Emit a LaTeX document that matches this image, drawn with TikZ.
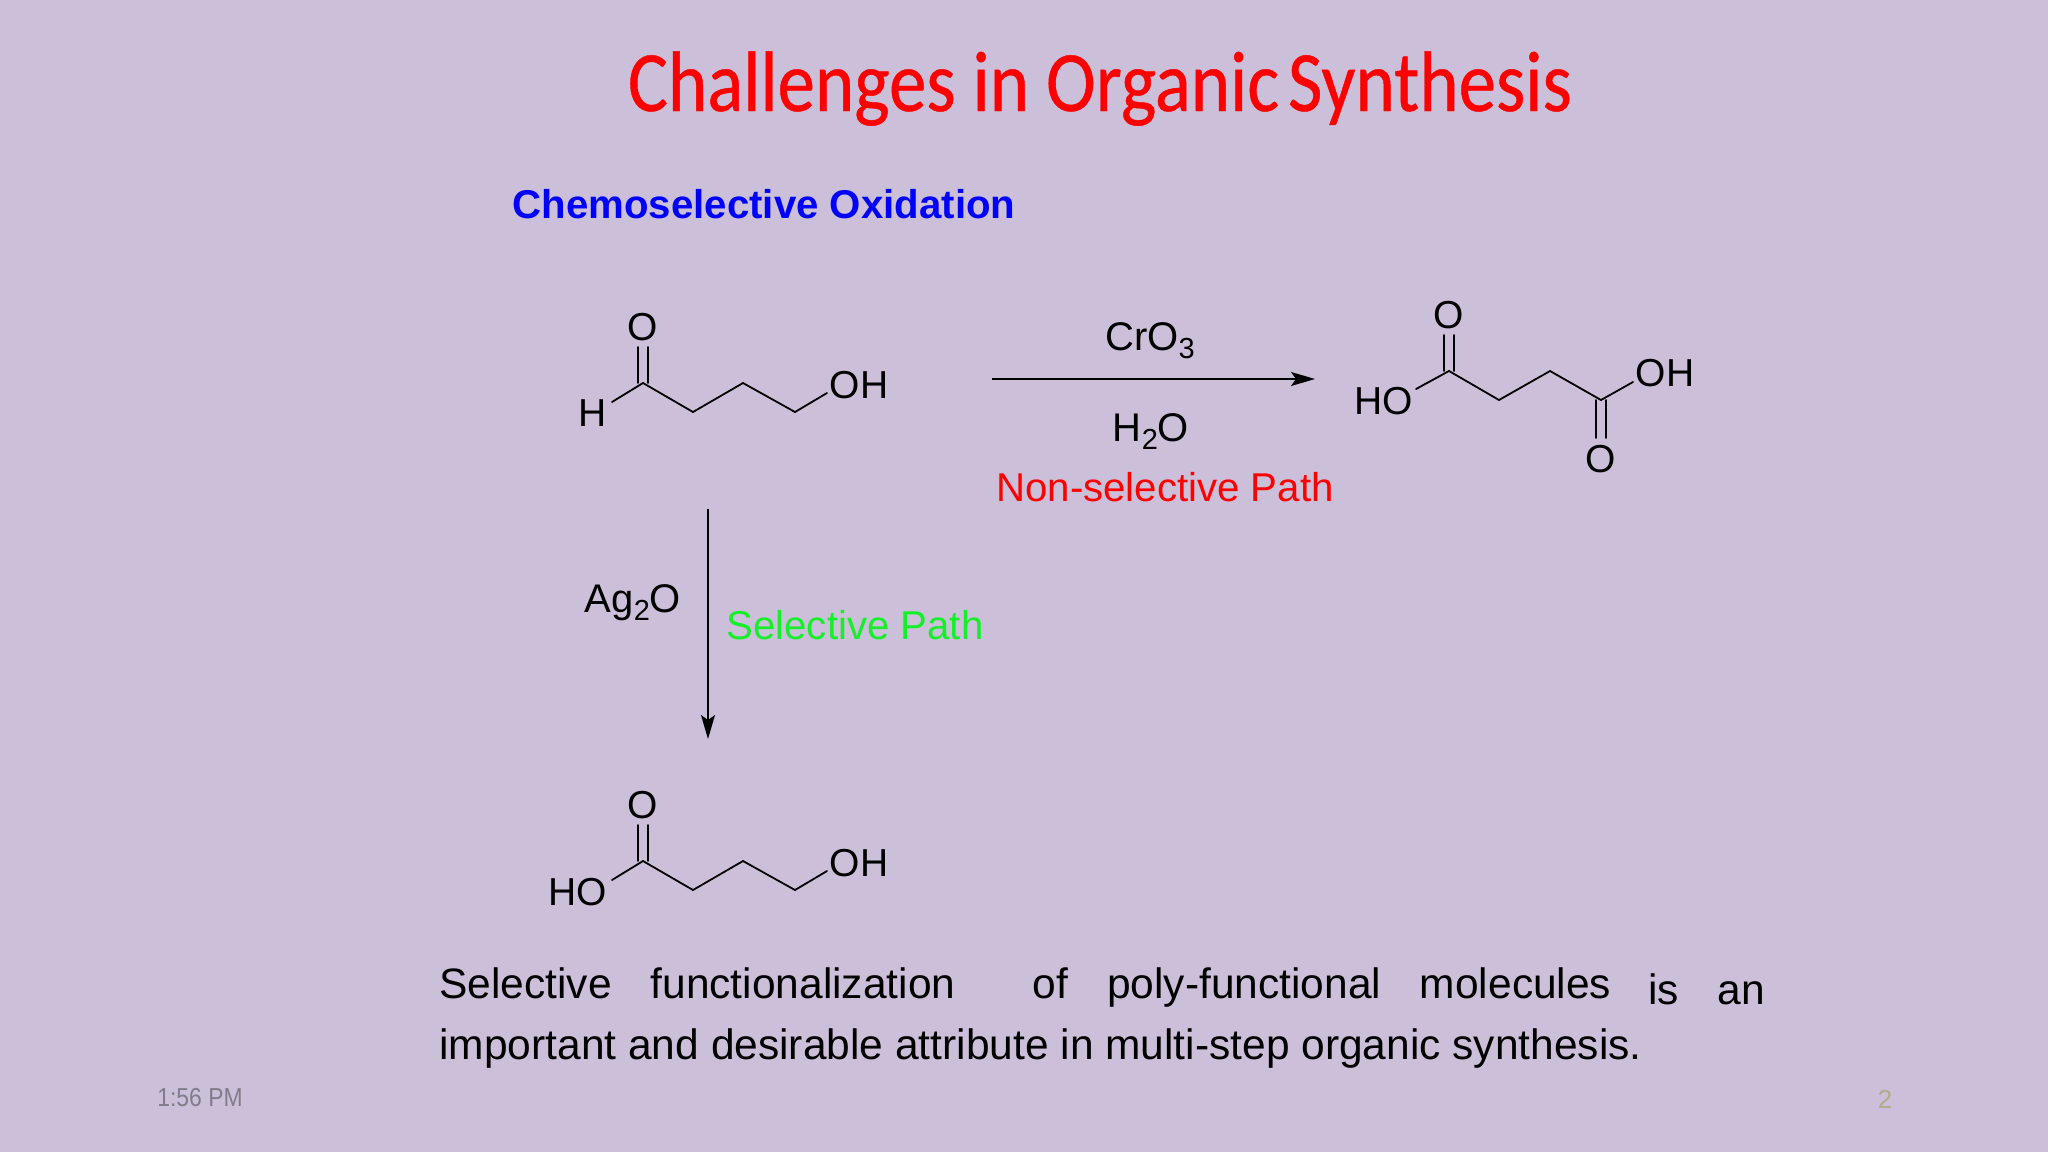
\documentclass[tikz,border=0pt]{standalone}
\usepackage{tkz-euclide}
\usepackage{tikz}
\usepackage{fontspec}
\setmainfont{Liberation Sans}
\newfontfamily\titlefont[FakeStretch=0.872,FakeBold=0.5]{Carlito}
\newfontfamily\datefont[FakeStretch=0.88]{Liberation Sans}
\usetikzlibrary{arrows.meta}
\definecolor{slidebg}{RGB}{204,191,217}
\definecolor{datecol}{RGB}{128,124,136}
\definecolor{numcol}{RGB}{176,172,142}
\definecolor{selgreen}{RGB}{20,240,40}
\newcommand{\subn}[1]{\raisebox{-4pt}{\fontsize{14.5}{15}\selectfont #1}}
\tikzset{
  atom/.style={inner sep=0pt,font=\fontsize{19.5}{20}\selectfont},
  reagent/.style={inner sep=0pt,anchor=base,font=\fontsize{20}{21}\selectfont},
  bond/.style={line width=.9pt,color=black},
  dbl/.style={line width=.9pt,color=black,transform canvas={xshift=#1}},
  rxn/.style={line width=.85pt,-{Stealth[length=12pt,width=7pt,inset=2.5pt]}},
  note/.style={inner sep=0pt,font=\fontsize{20.1}{22}\selectfont},
  body/.style={inner sep=0pt,anchor=base west,font=\fontsize{21.25}{24}\selectfont}
}
\begin{document}
\begin{tikzpicture}[x=0.5pt,y=-0.5pt]
    \useasboundingbox (0,0) rectangle (2048,1152);
    \fill[slidebg] (0,0) rectangle (2048,1152);
    % aldehyde
    \tkzDefPoints{643/383/Aa,643/347/Ab,612/402/Ac,693/412/Ad,743/383/Ae,795/412/Af,827/393/Ag}
    \node[atom] (AO) at (643,327) {O};
    \node[atom] (AH) at (593,413) {H};
    \node[atom] (AOH) at (859,385) {OH};
    \tkzDrawSegments[bond](Aa,Ac Aa,Ad Ad,Ae Ae,Af Af,Ag)
    \tkzDrawSegments[dbl=2.5pt](Aa,Ab)
    \tkzDrawSegments[dbl=-2.5pt](Aa,Ab)
    % diacid
    \tkzDefPoints{1449/371/Ba,1449/335/Bb,1416/389/Bc,1499/400/Bd,1550/371/Be,1601/400/Bf,1601/438/Bg,1633/382/Bh}
    \node[atom] (BO) at (1449,315) {O};
    \node[atom] (BHO) at (1384,401) {HO};
    \node[atom] (BOb) at (1601,459) {O};
    \node[atom] (BOH) at (1665,373) {OH};
    \tkzDrawSegments[bond](Ba,Bc Ba,Bd Bd,Be Be,Bf Bf,Bh)
    \tkzDrawSegments[dbl=2.5pt](Ba,Bb Bf,Bg)
    \tkzDrawSegments[dbl=-2.5pt](Ba,Bb Bf,Bg)
    % hydroxy acid
    \tkzDefPoints{643/861/Ca,643/825/Cb,612/880/Cc,693/890/Cd,743/861/Ce,795/890/Cf,827/871/Cg}
    \node[atom] (CO) at (643,805) {O};
    \node[atom] (CHO) at (578,892) {HO};
    \node[atom] (COH) at (859,863) {OH};
    \tkzDrawSegments[bond](Ca,Cc Ca,Cd Cd,Ce Ce,Cf Cf,Cg)
    \tkzDrawSegments[dbl=2.5pt](Ca,Cb)
    \tkzDrawSegments[dbl=-2.5pt](Ca,Cb)
    % reactions
    \tkzDefPoints{992/379/Da,1315/379/Db,708/509/Dc,708/739/Dd}
    \draw[rxn] (Da) -- (Db);
    \draw[rxn] (Dc) -- (Dd);
    \node[reagent] (cro) at (1150,350) {CrO\subn{3}};
    \node[reagent] (water) at (1151,441) {H\subn{2}O};
    \node[reagent] (silver) at (633,612) {Ag\subn{2}O};
    \node[note,text=red] (nonsel) at (1165,487) {Non-selective Path};
    \node[note,text=selgreen] (sel) at (855,625) {Selective Path};
    % texts
    \node[inner sep=0pt,anchor=base,text=red,font=\titlefont\fontsize{43}{46}\selectfont] (title) at (1100,111) {Challenges in Organic\kern-4pt\ Synthesis};
    \node[inner sep=0pt,text=blue,font=\fontsize{20.1}{22}\bfseries\selectfont] (chemo) at (764,204) {Chemoselective Oxidation};
    \node[body,text width=1172*0.5pt] (lineA) at (439,998) {Selective\hfill functionalization\hfill\hfill of\hfill poly-functional\hfill molecules};
    \node[body] (is) at (1648,1004) {is};
    \node[body] (an) at (1717,1004) {an};
    \node[body] (lineB) at (439,1059) {important and desirable attribute in multi-step organic synthesis.};
    \node[inner sep=0pt,text=datecol,font=\datefont\fontsize{13}{14}\selectfont] (date) at (200,1098) {1:56 PM};
    \node[inner sep=0pt,text=numcol,font=\rmfamily\fontsize{13}{14}\selectfont] (num) at (1885,1099) {2};
\end{tikzpicture}
\end{document}
